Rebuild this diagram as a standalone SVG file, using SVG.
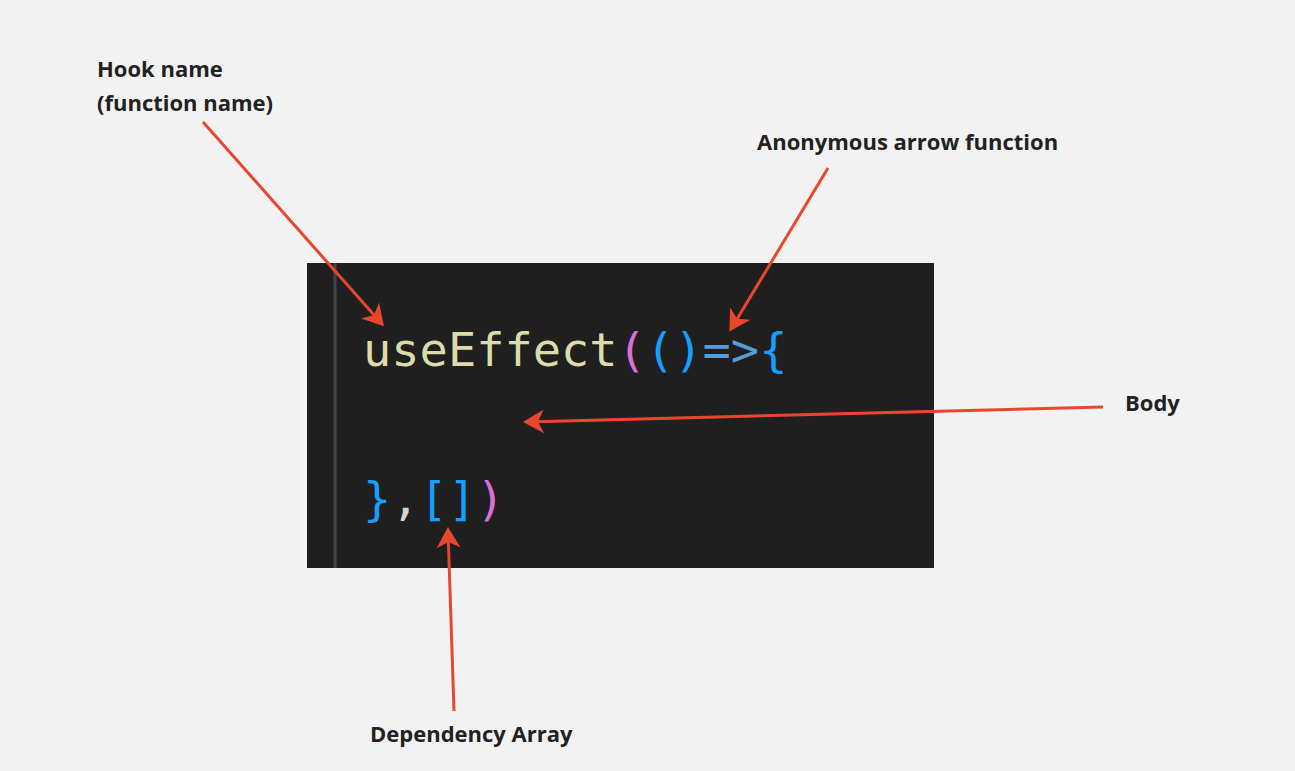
<svg xmlns="http://www.w3.org/2000/svg" width="1295" height="771" viewBox="0 0 1295 771">
<style>
.lbl{font-family:"Open Sans",sans-serif;font-weight:700;font-size:22px;fill:#222}
.code{font-family:"DejaVu Sans Mono",monospace;font-size:47px}
.arr{stroke:#e8472d;stroke-width:3;fill:none;marker-end:url(#ah)}
</style>
<defs><marker id="ah" markerWidth="8" markerHeight="8" refX="6" refY="4" orient="auto" markerUnits="strokeWidth"><path d="M0,0 L7,4 L0,8 L2,4 z" fill="#e8472d"/></marker></defs>
<rect width="1295" height="771" fill="#f2f2f2"/>
<g id="code">
<rect x="307" y="263" width="627" height="305" fill="#1f1f1f"/>
<line x1="335" y1="263" x2="335" y2="568" stroke="#444" stroke-width="3"/>
<text class="code" x="363" y="366"><tspan fill="#dcdcaa">useEffect</tspan><tspan fill="#da70d6">(</tspan><tspan fill="#179fff">()</tspan><tspan fill="#569cd6">=&gt;</tspan><tspan fill="#179fff">{</tspan></text>
<text class="code" x="363" y="515"><tspan fill="#179fff">}</tspan><tspan fill="#d4d4d4">,</tspan><tspan fill="#179fff">[]</tspan><tspan fill="#da70d6">)</tspan></text>
</g>
<g id="labels">
<text class="lbl" x="97" y="77">Hook name</text>
<text class="lbl" x="97" y="111">(function name)</text>
<text class="lbl" x="757" y="150">Anonymous arrow function</text>
<text class="lbl" x="1125" y="411">Body</text>
<text class="lbl" x="370" y="742">Dependency Array</text>
</g>
<g id="connectors">
<line class="arr" x1="203" y1="122" x2="382" y2="324"/>
<line class="arr" x1="828" y1="168" x2="731" y2="329"/>
<line class="arr" x1="1103" y1="407" x2="526" y2="422"/>
<line class="arr" x1="454" y1="711" x2="448" y2="530"/>
</g>
</svg>
